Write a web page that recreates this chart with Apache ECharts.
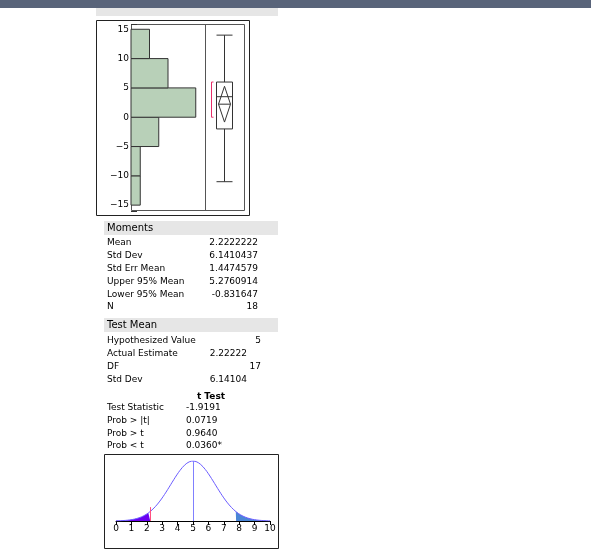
<!DOCTYPE html><html><head><meta charset="utf-8"><script src="https://cdn.jsdelivr.net/npm/echarts@6/dist/echarts.min.js"></script>
<style>html,body{margin:0;padding:0;background:#fff}#c{width:591px;height:560px}</style></head><body><div id="c"></div><script>
var binStarts=[-15,-10,-5,0,5,10];
var binCounts=[1,1,3,7,4,2];
var boxStats={min:-11,q1:-2,median:3.5,q3:6,max:14,mean:2.2222222,lcl:-0.831647,ucl:5.2760914,shortLo:0,shortHi:6};
var yTicks=[-15,-10,-5,0,5,10,15];
var momentLabels=['Mean','Std Dev','Std Err Mean','Upper 95% Mean','Lower 95% Mean','N'];
var momentValues=['2.2222222','6.1410437','1.4474579','5.2760914','-0.831647','18'];
var testLabels=['Hypothesized Value','Actual Estimate','DF','Std Dev'];
var testValues=['5','2.22222','17','6.14104'];
var tLabels=['Test Statistic','Prob > |t|','Prob > t','Prob < t'];
var tValues=['-1.9191','0.0719','0.9640','0.0360*'];
var hypMean=5, estMean=2.2222222, sdev=6.14104, nObs=18;
var xTicks=[0,1,2,3,4,5,6,7,8,9,10];

var se=sdev/Math.sqrt(nObs);
function dens(x){return Math.exp(-0.5*Math.pow((x-hypMean)/se,2))/(se*Math.sqrt(2*Math.PI));}
var curve=[],lowTail=[],highTail=[];
var upCut=2*hypMean-estMean;
for(var i=0;i<=200;i++){var x=i*0.05;curve.push([x,dens(x)]);if(x<=estMean)lowTail.push([x,dens(x)]);if(x>=upCut)highTail.push([x,dens(x)]);}
lowTail.push([estMean,dens(estMean)]);highTail.unshift([upCut,dens(upCut)]);
var peak=dens(hypMean);
var F='DejaVu Sans',FS=9;
var g=[];
g.push({type:'rect',shape:{x:0,y:0,width:591,height:8},style:{fill:'#59647a'}});
g.push({type:'rect',shape:{x:96,y:8,width:182,height:8},style:{fill:'#e6e6e6'}});
g.push({type:'rect',shape:{x:96.5,y:20.5,width:153,height:195},style:{fill:'none',stroke:'#222',lineWidth:1}});
g.push({type:'rect',shape:{x:131.5,y:24.5,width:113,height:186},style:{fill:'none',stroke:'#555',lineWidth:1}});
g.push({type:'line',shape:{x1:205.5,y1:24,x2:205.5,y2:211},style:{stroke:'#555',lineWidth:1}});
function hdr(y,t){g.push({type:'rect',shape:{x:104,y:y,width:174,height:14},style:{fill:'#e6e6e6'}});
 g.push({type:'text',style:{x:107,y:y+7,text:t,font:'10px '+F,fill:'#000',textVerticalAlign:'middle'}});}
hdr(221,'Moments');
momentLabels.forEach(function(l,i){var y=243+i*12.8;
 g.push({type:'text',style:{x:107,y:y,text:l,font:FS+'px '+F,fill:'#000',textVerticalAlign:'middle'}});
 g.push({type:'text',style:{x:258,y:y,text:momentValues[i],font:FS+'px '+F,fill:'#000',textAlign:'right',textVerticalAlign:'middle'}});});
hdr(318,'Test Mean');
var tx=[261,247,261,247];
testLabels.forEach(function(l,i){var y=341+i*13;
 g.push({type:'text',style:{x:107,y:y,text:l,font:FS+'px '+F,fill:'#000',textVerticalAlign:'middle'}});
 g.push({type:'text',style:{x:tx[i],y:y,text:testValues[i],font:FS+'px '+F,fill:'#000',textAlign:'right',textVerticalAlign:'middle'}});});
g.push({type:'text',style:{x:211,y:397,text:'t Test',font:'bold '+FS+'px '+F,fill:'#000',textAlign:'center',textVerticalAlign:'middle'}});
tLabels.forEach(function(l,i){var y=408+i*12.7;
 g.push({type:'text',style:{x:107,y:y,text:l,font:FS+'px '+F,fill:'#000',textVerticalAlign:'middle'}});
 g.push({type:'text',style:{x:186,y:y,text:tValues[i],font:FS+'px '+F,fill:'#000',textVerticalAlign:'middle'}});});
g.push({type:'rect',shape:{x:104.5,y:454.5,width:174,height:94},style:{fill:'none',stroke:'#222',lineWidth:1}});

var chart=echarts.init(document.getElementById('c'),null,{renderer:'canvas'});
chart.setOption({animation:false,graphic:g,
grid:[{left:131,width:74,top:24,height:187},{left:205,width:39,top:24,height:187},{left:116,right:321,top:461,bottom:39}],
xAxis:[{gridIndex:0,type:'value',min:0,max:8,show:false},{gridIndex:1,type:'value',min:0,max:1,show:false},
 {gridIndex:2,type:'value',min:0,max:10,interval:1,axisLine:{lineStyle:{color:'#000'}},axisTick:{inside:false,length:4,lineStyle:{color:'#000'}},axisLabel:{fontFamily:F,fontSize:FS,color:'#000',margin:3},splitLine:{show:false}}],
yAxis:[{gridIndex:0,type:'value',min:-16,max:15.9,interval:5,axisLine:{show:false},axisTick:{length:6,inside:true,lineStyle:{color:'#333'}},axisLabel:{fontFamily:F,fontSize:FS,color:'#000',margin:2,customValues:yTicks,formatter:function(v){return v<0?'\u2212'+(-v):v;}},splitLine:{show:false}},
 {gridIndex:1,type:'value',min:-16,max:15.9,show:false},
 {gridIndex:2,type:'value',min:0,max:peak,show:false}],
series:[
{type:'custom',xAxisIndex:0,yAxisIndex:0,data:binStarts.map(function(s,i){return [s,binCounts[i]];}),
 renderItem:function(p,api){var a=api.coord([0,api.value(0)+5]),b=api.coord([api.value(1),api.value(0)]);
  return {type:'rect',shape:{x:a[0],y:a[1],width:b[0]-a[0],height:b[1]-a[1]},style:{fill:'#b8d0b8',stroke:'#333',lineWidth:1}};}},
{type:'custom',xAxisIndex:1,yAxisIndex:1,data:[[0]],
 renderItem:function(p,api){var s=boxStats;function c(v){return api.coord([0.5,v])[1];}
  var cx=api.coord([0.5,0])[0],hw=8,st={stroke:'#333',fill:'none',lineWidth:1};
  var ch=[
   {type:'line',shape:{x1:cx,y1:c(s.max),x2:cx,y2:c(s.q3)},style:st},
   {type:'line',shape:{x1:cx,y1:c(s.q1),x2:cx,y2:c(s.min)},style:st},
   {type:'line',shape:{x1:cx-8,y1:c(s.max),x2:cx+8,y2:c(s.max)},style:st},
   {type:'line',shape:{x1:cx-8,y1:c(s.min),x2:cx+8,y2:c(s.min)},style:st},
   {type:'rect',shape:{x:cx-hw,y:c(s.q3),width:2*hw,height:c(s.q1)-c(s.q3)},style:st},
   {type:'line',shape:{x1:cx-hw,y1:c(s.median),x2:cx+hw,y2:c(s.median)},style:st},
   {type:'polygon',shape:{points:[[cx,c(s.ucl)],[cx+6,c(s.mean)],[cx,c(s.lcl)],[cx-6,c(s.mean)]]},style:st},
   {type:'line',shape:{x1:cx-6,y1:c(s.mean),x2:cx+6,y2:c(s.mean)},style:st},
   {type:'polyline',shape:{points:[[cx-11,c(s.shortHi)],[cx-13,c(s.shortHi)],[cx-13,c(s.shortLo)],[cx-11,c(s.shortLo)]]},style:{stroke:'#e8306a',fill:'none',lineWidth:1}}];
  return {type:'group',children:ch};}},
{type:'line',xAxisIndex:2,yAxisIndex:2,data:lowTail,showSymbol:false,lineStyle:{width:0},areaStyle:{color:'#6a00f0',opacity:1},z:2},
{type:'line',xAxisIndex:2,yAxisIndex:2,data:highTail,showSymbol:false,lineStyle:{width:0},areaStyle:{color:'#4a86d6',opacity:1},z:2},
{type:'line',xAxisIndex:2,yAxisIndex:2,data:curve,showSymbol:false,lineStyle:{color:'#6b5cff',width:1},z:3,
 markLine:{symbol:'none',silent:true,label:{show:false},data:[
  [{coord:[hypMean,0],lineStyle:{color:'#8080ff',width:1,type:'solid'}},{coord:[hypMean,peak]}],
  [{coord:[estMean,0],lineStyle:{color:'#ff5080',width:1,type:'solid'}},{coord:[estMean,dens(estMean)+0.02]}]]}}
]});
</script></body></html>
